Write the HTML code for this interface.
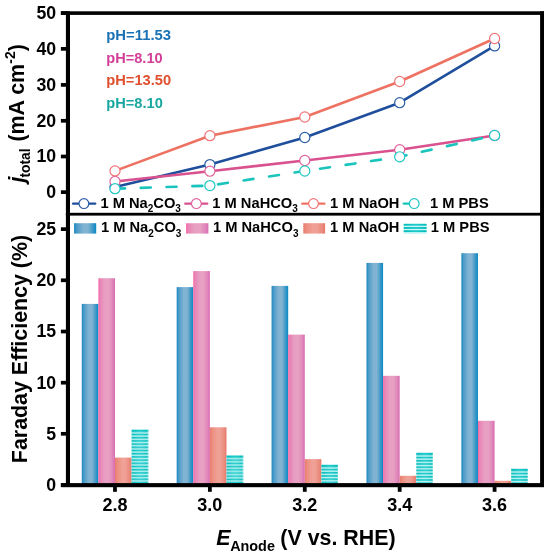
<!DOCTYPE html>
<html><head><meta charset="utf-8"><style>
html,body{margin:0;padding:0;background:#fff;}
svg{display:block;will-change:transform;}
text{font-family:"Liberation Sans",sans-serif;font-weight:bold;}
</style></head><body>
<svg width="550" height="558" viewBox="0 0 550 558">
<defs>
<linearGradient id="gb" x1="0" x2="1" y1="0" y2="0">
 <stop offset="0" stop-color="#1785bd"/><stop offset="0.12" stop-color="#4a9ac8"/>
 <stop offset="0.42" stop-color="#80b3d2"/><stop offset="0.62" stop-color="#82b4d2"/>
 <stop offset="0.86" stop-color="#3896c6"/><stop offset="1" stop-color="#068ac6"/>
</linearGradient>
<linearGradient id="gp" x1="0" x2="1" y1="0" y2="0">
 <stop offset="0" stop-color="#fa64a6"/><stop offset="0.1" stop-color="#e884b6"/>
 <stop offset="0.4" stop-color="#e8a0c2"/><stop offset="0.62" stop-color="#e8a0c2"/>
 <stop offset="0.86" stop-color="#e086ba"/><stop offset="1" stop-color="#d86ab4"/>
</linearGradient>
<linearGradient id="gs" x1="0" x2="1" y1="0" y2="0">
 <stop offset="0" stop-color="#e87c6c"/><stop offset="0.15" stop-color="#ec8e80"/>
 <stop offset="0.45" stop-color="#f0a196"/><stop offset="0.62" stop-color="#f0a096"/>
 <stop offset="0.88" stop-color="#ea8a7c"/><stop offset="1" stop-color="#e67868"/>
</linearGradient>
<linearGradient id="gc" x1="0" x2="1" y1="0" y2="0">
 <stop offset="0" stop-color="#00baba"/><stop offset="0.45" stop-color="#1ccaca"/>
 <stop offset="0.6" stop-color="#1ccaca"/><stop offset="1" stop-color="#00baba"/>
</linearGradient>
<pattern id="hc" patternUnits="userSpaceOnUse" x="0" y="0" width="600" height="3.15">
 <rect x="0" y="0" width="600" height="3.15" fill="#c6eeee"/>
 <rect x="0" y="0" width="600" height="1.7" fill="url(#gc)"/>
</pattern>
</defs>

<rect x="81.78" y="303.90" width="16.60" height="181.10" fill="url(#gb)"/>
<rect x="98.38" y="278.20" width="16.60" height="206.80" fill="url(#gp)"/>
<rect x="114.98" y="457.60" width="16.60" height="27.40" fill="url(#gs)"/>
<svg x="131.58" y="429.70" width="16.60" height="55.30" overflow="hidden" viewBox="0 0 16.60 55.30" preserveAspectRatio="none">
<rect x="0" y="0" width="16.60" height="55.30" fill="#d0f7f7"/>
<rect x="0" y="0" width="16.60" height="1" fill="url(#gc)"/>
<rect x="0" y="0.60" width="16.60" height="1.8" fill="url(#gc)"/>
<rect x="0" y="3.80" width="16.60" height="1.8" fill="url(#gc)"/>
<rect x="0" y="7.00" width="16.60" height="1.8" fill="url(#gc)"/>
<rect x="0" y="10.20" width="16.60" height="1.8" fill="url(#gc)"/>
<rect x="0" y="13.40" width="16.60" height="1.8" fill="url(#gc)"/>
<rect x="0" y="16.60" width="16.60" height="1.8" fill="url(#gc)"/>
<rect x="0" y="19.80" width="16.60" height="1.8" fill="url(#gc)"/>
<rect x="0" y="23.00" width="16.60" height="1.8" fill="url(#gc)"/>
<rect x="0" y="26.20" width="16.60" height="1.8" fill="url(#gc)"/>
<rect x="0" y="29.40" width="16.60" height="1.8" fill="url(#gc)"/>
<rect x="0" y="32.60" width="16.60" height="1.8" fill="url(#gc)"/>
<rect x="0" y="35.80" width="16.60" height="1.8" fill="url(#gc)"/>
<rect x="0" y="39.00" width="16.60" height="1.8" fill="url(#gc)"/>
<rect x="0" y="42.20" width="16.60" height="1.8" fill="url(#gc)"/>
<rect x="0" y="45.40" width="16.60" height="1.8" fill="url(#gc)"/>
<rect x="0" y="48.60" width="16.60" height="1.8" fill="url(#gc)"/>
<rect x="0" y="51.80" width="16.60" height="1.8" fill="url(#gc)"/>
<rect x="0" y="55.00" width="16.60" height="1.8" fill="url(#gc)"/>
<rect x="0" y="58.20" width="16.60" height="1.8" fill="url(#gc)"/>
</svg>
<rect x="176.68" y="287.10" width="16.60" height="197.90" fill="url(#gb)"/>
<rect x="193.28" y="271.10" width="16.60" height="213.90" fill="url(#gp)"/>
<rect x="209.88" y="427.30" width="16.60" height="57.70" fill="url(#gs)"/>
<svg x="226.48" y="455.50" width="16.60" height="29.50" overflow="hidden" viewBox="0 0 16.60 29.50" preserveAspectRatio="none">
<rect x="0" y="0" width="16.60" height="29.50" fill="#d0f7f7"/>
<rect x="0" y="0" width="16.60" height="1" fill="url(#gc)"/>
<rect x="0" y="0.60" width="16.60" height="1.8" fill="url(#gc)"/>
<rect x="0" y="3.80" width="16.60" height="1.8" fill="url(#gc)"/>
<rect x="0" y="7.00" width="16.60" height="1.8" fill="url(#gc)"/>
<rect x="0" y="10.20" width="16.60" height="1.8" fill="url(#gc)"/>
<rect x="0" y="13.40" width="16.60" height="1.8" fill="url(#gc)"/>
<rect x="0" y="16.60" width="16.60" height="1.8" fill="url(#gc)"/>
<rect x="0" y="19.80" width="16.60" height="1.8" fill="url(#gc)"/>
<rect x="0" y="23.00" width="16.60" height="1.8" fill="url(#gc)"/>
<rect x="0" y="26.20" width="16.60" height="1.8" fill="url(#gc)"/>
<rect x="0" y="29.40" width="16.60" height="1.8" fill="url(#gc)"/>
<rect x="0" y="32.60" width="16.60" height="1.8" fill="url(#gc)"/>
</svg>
<rect x="271.58" y="285.90" width="16.60" height="199.10" fill="url(#gb)"/>
<rect x="288.18" y="334.60" width="16.60" height="150.40" fill="url(#gp)"/>
<rect x="304.78" y="459.10" width="16.60" height="25.90" fill="url(#gs)"/>
<svg x="321.38" y="464.80" width="16.60" height="20.20" overflow="hidden" viewBox="0 0 16.60 20.20" preserveAspectRatio="none">
<rect x="0" y="0" width="16.60" height="20.20" fill="#d0f7f7"/>
<rect x="0" y="0" width="16.60" height="1" fill="url(#gc)"/>
<rect x="0" y="0.60" width="16.60" height="1.8" fill="url(#gc)"/>
<rect x="0" y="3.80" width="16.60" height="1.8" fill="url(#gc)"/>
<rect x="0" y="7.00" width="16.60" height="1.8" fill="url(#gc)"/>
<rect x="0" y="10.20" width="16.60" height="1.8" fill="url(#gc)"/>
<rect x="0" y="13.40" width="16.60" height="1.8" fill="url(#gc)"/>
<rect x="0" y="16.60" width="16.60" height="1.8" fill="url(#gc)"/>
<rect x="0" y="19.80" width="16.60" height="1.8" fill="url(#gc)"/>
<rect x="0" y="23.00" width="16.60" height="1.8" fill="url(#gc)"/>
</svg>
<rect x="366.48" y="262.90" width="16.60" height="222.10" fill="url(#gb)"/>
<rect x="383.08" y="375.80" width="16.60" height="109.20" fill="url(#gp)"/>
<rect x="399.68" y="475.80" width="16.60" height="9.20" fill="url(#gs)"/>
<svg x="416.28" y="452.80" width="16.60" height="32.20" overflow="hidden" viewBox="0 0 16.60 32.20" preserveAspectRatio="none">
<rect x="0" y="0" width="16.60" height="32.20" fill="#d0f7f7"/>
<rect x="0" y="0" width="16.60" height="1" fill="url(#gc)"/>
<rect x="0" y="0.60" width="16.60" height="1.8" fill="url(#gc)"/>
<rect x="0" y="3.80" width="16.60" height="1.8" fill="url(#gc)"/>
<rect x="0" y="7.00" width="16.60" height="1.8" fill="url(#gc)"/>
<rect x="0" y="10.20" width="16.60" height="1.8" fill="url(#gc)"/>
<rect x="0" y="13.40" width="16.60" height="1.8" fill="url(#gc)"/>
<rect x="0" y="16.60" width="16.60" height="1.8" fill="url(#gc)"/>
<rect x="0" y="19.80" width="16.60" height="1.8" fill="url(#gc)"/>
<rect x="0" y="23.00" width="16.60" height="1.8" fill="url(#gc)"/>
<rect x="0" y="26.20" width="16.60" height="1.8" fill="url(#gc)"/>
<rect x="0" y="29.40" width="16.60" height="1.8" fill="url(#gc)"/>
<rect x="0" y="32.60" width="16.60" height="1.8" fill="url(#gc)"/>
<rect x="0" y="35.80" width="16.60" height="1.8" fill="url(#gc)"/>
</svg>
<rect x="461.38" y="253.20" width="16.60" height="231.80" fill="url(#gb)"/>
<rect x="477.98" y="420.80" width="16.60" height="64.20" fill="url(#gp)"/>
<rect x="494.58" y="480.80" width="16.60" height="4.20" fill="url(#gs)"/>
<svg x="511.18" y="468.80" width="16.60" height="16.20" overflow="hidden" viewBox="0 0 16.60 16.20" preserveAspectRatio="none">
<rect x="0" y="0" width="16.60" height="16.20" fill="#d0f7f7"/>
<rect x="0" y="0" width="16.60" height="1" fill="url(#gc)"/>
<rect x="0" y="0.60" width="16.60" height="1.8" fill="url(#gc)"/>
<rect x="0" y="3.80" width="16.60" height="1.8" fill="url(#gc)"/>
<rect x="0" y="7.00" width="16.60" height="1.8" fill="url(#gc)"/>
<rect x="0" y="10.20" width="16.60" height="1.8" fill="url(#gc)"/>
<rect x="0" y="13.40" width="16.60" height="1.8" fill="url(#gc)"/>
<rect x="0" y="16.60" width="16.60" height="1.8" fill="url(#gc)"/>
<rect x="0" y="19.80" width="16.60" height="1.8" fill="url(#gc)"/>
</svg>
<polyline points="115.0,187.0 209.9,164.6 304.8,137.5 399.7,102.7 494.6,45.9" fill="none" stroke="#1f4e9c" stroke-width="2.6" stroke-linejoin="round"/>
<circle cx="115.0" cy="187.0" r="5.05" fill="#fff" stroke="#2d5ea8" stroke-width="1.2"/>
<circle cx="209.9" cy="164.6" r="5.05" fill="#fff" stroke="#2d5ea8" stroke-width="1.2"/>
<circle cx="304.8" cy="137.5" r="5.05" fill="#fff" stroke="#2d5ea8" stroke-width="1.2"/>
<circle cx="399.7" cy="102.7" r="5.05" fill="#fff" stroke="#2d5ea8" stroke-width="1.2"/>
<circle cx="494.6" cy="45.9" r="5.05" fill="#fff" stroke="#2d5ea8" stroke-width="1.2"/>
<polyline points="115.0,181.5 209.9,171.2 304.8,160.5 399.7,149.7 494.6,135.5" fill="none" stroke="#d9528f" stroke-width="2.6" stroke-linejoin="round"/>
<circle cx="115.0" cy="181.5" r="5.05" fill="#fff" stroke="#e0629c" stroke-width="1.2"/>
<circle cx="209.9" cy="171.2" r="5.05" fill="#fff" stroke="#e0629c" stroke-width="1.2"/>
<circle cx="304.8" cy="160.5" r="5.05" fill="#fff" stroke="#e0629c" stroke-width="1.2"/>
<circle cx="399.7" cy="149.7" r="5.05" fill="#fff" stroke="#e0629c" stroke-width="1.2"/>
<circle cx="494.6" cy="135.5" r="5.05" fill="#fff" stroke="#e0629c" stroke-width="1.2"/>
<polyline points="115.0,170.9 209.9,135.7 304.8,117.0 399.7,81.5 494.6,38.5" fill="none" stroke="#ee7262" stroke-width="2.6" stroke-linejoin="round"/>
<circle cx="115.0" cy="170.9" r="5.05" fill="#fff" stroke="#f07478" stroke-width="1.2"/>
<circle cx="209.9" cy="135.7" r="5.05" fill="#fff" stroke="#f07478" stroke-width="1.2"/>
<circle cx="304.8" cy="117.0" r="5.05" fill="#fff" stroke="#f07478" stroke-width="1.2"/>
<circle cx="399.7" cy="81.5" r="5.05" fill="#fff" stroke="#f07478" stroke-width="1.2"/>
<circle cx="494.6" cy="38.5" r="5.05" fill="#fff" stroke="#f07478" stroke-width="1.2"/>
<polyline points="115.0,188.7 209.9,185.6 304.8,171.0 399.7,156.8 494.6,135.4" fill="none" stroke="#18c4bc" stroke-width="2.6" stroke-dasharray="10 15.8" stroke-linecap="round"/>
<circle cx="115.0" cy="188.7" r="5.05" fill="#fff" stroke="#20c6c6" stroke-width="1.2"/>
<circle cx="209.9" cy="185.6" r="5.05" fill="#fff" stroke="#20c6c6" stroke-width="1.2"/>
<circle cx="304.8" cy="171.0" r="5.05" fill="#fff" stroke="#20c6c6" stroke-width="1.2"/>
<circle cx="399.7" cy="156.8" r="5.05" fill="#fff" stroke="#20c6c6" stroke-width="1.2"/>
<circle cx="494.6" cy="135.4" r="5.05" fill="#fff" stroke="#20c6c6" stroke-width="1.2"/>
<g fill="#000">
<rect x="65.9" y="11.3" width="4.1" height="475.7"/>
<rect x="540.1" y="11.3" width="3.9" height="475.7"/>
<rect x="60.9" y="11.3" width="483.1" height="3.6"/>
<rect x="65.9" y="212.8" width="478" height="2.8"/>
<rect x="60.9" y="483.1" width="483.1" height="4.1"/>
<rect x="60.9" y="11.25" width="6" height="3.7"/>
<rect x="60.9" y="47.00" width="6" height="3.7"/>
<rect x="60.9" y="83.05" width="6" height="3.7"/>
<rect x="60.9" y="118.95" width="6" height="3.7"/>
<rect x="60.9" y="154.65" width="6" height="3.7"/>
<rect x="60.9" y="190.30" width="6" height="3.7"/>
<rect x="60.9" y="227.30" width="6" height="3.7"/>
<rect x="60.9" y="278.45" width="6" height="3.7"/>
<rect x="60.9" y="329.65" width="6" height="3.7"/>
<rect x="60.9" y="380.85" width="6" height="3.7"/>
<rect x="60.9" y="431.95" width="6" height="3.7"/>
<rect x="60.9" y="483.15" width="6" height="3.7"/>
<rect x="113.08" y="485" width="3.8" height="6.8"/>
<rect x="207.98" y="485" width="3.8" height="6.8"/>
<rect x="302.88" y="485" width="3.8" height="6.8"/>
<rect x="397.78" y="485" width="3.8" height="6.8"/>
<rect x="492.68" y="485" width="3.8" height="6.8"/>
</g>
<text x="56.1" y="18.90" font-size="17.7" text-anchor="end">50</text>
<text x="56.1" y="54.65" font-size="17.7" text-anchor="end">40</text>
<text x="56.1" y="90.70" font-size="17.7" text-anchor="end">30</text>
<text x="56.1" y="126.60" font-size="17.7" text-anchor="end">20</text>
<text x="56.1" y="162.30" font-size="17.7" text-anchor="end">10</text>
<text x="56.1" y="197.95" font-size="17.7" text-anchor="end">0</text>
<text x="56.1" y="234.95" font-size="17.7" text-anchor="end">25</text>
<text x="56.1" y="286.10" font-size="17.7" text-anchor="end">20</text>
<text x="56.1" y="337.30" font-size="17.7" text-anchor="end">15</text>
<text x="56.1" y="388.50" font-size="17.7" text-anchor="end">10</text>
<text x="56.1" y="439.60" font-size="17.7" text-anchor="end">5</text>
<text x="56.1" y="490.80" font-size="17.7" text-anchor="end">0</text>
<text x="114.98" y="511.1" font-size="18" text-anchor="middle">2.8</text>
<text x="209.88" y="511.1" font-size="18" text-anchor="middle">3.0</text>
<text x="304.78" y="511.1" font-size="18" text-anchor="middle">3.2</text>
<text x="399.68" y="511.1" font-size="18" text-anchor="middle">3.4</text>
<text x="494.58" y="511.1" font-size="18" text-anchor="middle">3.6</text>
<text x="106.3" y="39.9" font-size="15" fill="#1a72b5" textLength="64.74" lengthAdjust="spacingAndGlyphs">pH=11.53</text>
<text x="106.3" y="62.7" font-size="15" fill="#d33f98" textLength="56.3" lengthAdjust="spacingAndGlyphs">pH=8.10</text>
<text x="106.3" y="85.2" font-size="15" fill="#e0502e" textLength="64.9" lengthAdjust="spacingAndGlyphs">pH=13.50</text>
<text x="106.3" y="107.5" font-size="15" fill="#17a7a0" textLength="56.5" lengthAdjust="spacingAndGlyphs">pH=8.10</text>
<line x1="73.10000000000001" y1="203.6" x2="95.2" y2="203.6" stroke="#1f4e9c" stroke-width="2.4" stroke-linecap="round"/>
<circle cx="83.9" cy="203.6" r="4.9" fill="#fff" stroke="#2d5ea8" stroke-width="1.2"/>
<text x="100.4" y="207.5" font-size="14.7">1 M Na<tspan font-size="10" dy="4.3">2</tspan><tspan dy="-4.3">CO</tspan><tspan font-size="10" dy="4.3">3</tspan></text>
<line x1="185.29999999999998" y1="203.6" x2="207.20000000000002" y2="203.6" stroke="#d9528f" stroke-width="2.4" stroke-linecap="round"/>
<circle cx="196.4" cy="203.6" r="4.9" fill="#fff" stroke="#e0629c" stroke-width="1.2"/>
<text x="212.3" y="207.5" font-size="14.7">1 M NaHCO<tspan font-size="10" dy="4.3">3</tspan></text>
<line x1="302.3" y1="203.6" x2="324.3" y2="203.6" stroke="#ee7262" stroke-width="2.4" stroke-linecap="round"/>
<circle cx="313.5" cy="203.6" r="4.9" fill="#fff" stroke="#f07478" stroke-width="1.2"/>
<text x="330.1" y="207.5" font-size="14.7">1 M NaOH</text>
<line x1="403.8" y1="203.6" x2="413.0" y2="203.6" stroke="#18c4bc" stroke-width="2.4" stroke-linecap="round"/>
<circle cx="414.2" cy="203.6" r="4.9" fill="#fff" stroke="#20c6c6" stroke-width="1.2"/>
<text x="430.0" y="207.5" font-size="14.7">1 M PBS</text>
<rect x="74.1" y="223.2" width="22.1" height="10.4" fill="url(#gb)"/>
<text x="100.9" y="232.2" font-size="14.7">1 M Na<tspan font-size="10" dy="4.3">2</tspan><tspan dy="-4.3">CO</tspan><tspan font-size="10" dy="4.3">3</tspan></text>
<rect x="186.1" y="223.2" width="22.3" height="10.4" fill="url(#gp)"/>
<text x="212.9" y="232.2" font-size="14.7">1 M NaHCO<tspan font-size="10" dy="4.3">3</tspan></text>
<rect x="303.3" y="223.2" width="21.8" height="10.4" fill="url(#gs)"/>
<text x="330.1" y="232.2" font-size="14.7">1 M NaOH</text>
<rect x="403.7" y="223.8" width="22.9" height="10.2" fill="#d0f7f7"/>
<rect x="403.7" y="223.80" width="22.9" height="1.9" fill="url(#gc)"/>
<rect x="403.7" y="227.00" width="22.9" height="1.9" fill="url(#gc)"/>
<rect x="403.7" y="230.20" width="22.9" height="1.9" fill="url(#gc)"/>
<text x="430.8" y="232.2" font-size="14.7">1 M PBS</text>
<text transform="translate(27.0,349) rotate(-90)" font-size="21.4" text-anchor="middle">Faraday Efficiency (%)</text>
<text transform="translate(23.8,182.5) rotate(-90)" font-size="21.4"><tspan font-style="italic">j</tspan><tspan font-size="13.8" dy="5.8" dx="-1">total</tspan><tspan dy="-5.8" dx="0.9"> (mA cm</tspan><tspan font-size="14" dy="-8.6" dx="0.2">-2</tspan><tspan dy="8.6" dx="0.1">)</tspan></text>
<text x="305" y="544.9" font-size="21.4" text-anchor="middle"><tspan font-style="italic" dx="1">E</tspan><tspan font-size="14.4" dy="5.6" dx="-0.5">Anode</tspan><tspan dy="-5.6" dx="-0.5"> (V vs. RHE)</tspan></text>
</svg></body></html>
